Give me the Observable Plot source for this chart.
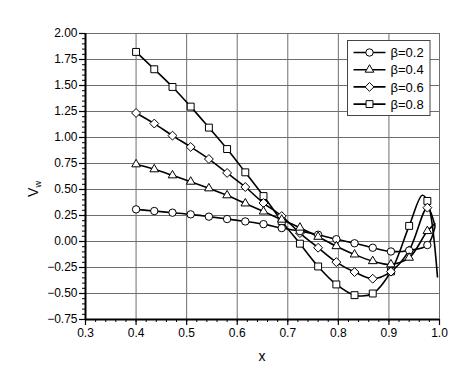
<!DOCTYPE html>
<html>
<head>
<meta charset="utf-8">
<script src="https://cdn.jsdelivr.net/npm/d3@7"></script>
<script src="https://cdn.jsdelivr.net/npm/@observablehq/plot@0.6"></script>
<style>
  html, body { margin: 0; padding: 0; background: #fff; }
  #chart { width: 474px; height: 392px; }
  svg { font-family: "Liberation Sans", Arial, sans-serif; }
</style>
</head>
<body>
<div id="chart"></div>
<script>
// ---- data ----
const betas = ["β=0.2", "β=0.4", "β=0.6", "β=0.8"];
const symbols = ["circle", "triangle", "diamond2", "square2"];
const xMarkers = [0.4, 0.436, 0.472, 0.508, 0.544, 0.58, 0.616, 0.652, 0.688, 0.724, 0.76, 0.796, 0.832, 0.868, 0.904, 0.94, 0.976];
const vBeta02 = [0.309, 0.293, 0.277, 0.261, 0.239, 0.216, 0.193, 0.167, 0.129, 0.100, 0.065, 0.022, -0.017, -0.060, -0.096, -0.086, -0.034];
const vBeta04 = [0.742, 0.694, 0.636, 0.575, 0.511, 0.444, 0.366, 0.288, 0.210, 0.133, 0.045, -0.045, -0.125, -0.189, -0.220, -0.156, 0.100];
const vBeta06 = [1.236, 1.134, 1.018, 0.909, 0.793, 0.659, 0.524, 0.370, 0.245, 0.081, -0.060, -0.198, -0.294, -0.358, -0.290, -0.086, 0.325];
const vBeta08 = [1.823, 1.656, 1.486, 1.297, 1.095, 0.889, 0.665, 0.437, 0.196, -0.021, -0.240, -0.413, -0.516, -0.500, -0.288, 0.150, 0.390];
// extra curve points (no marker) near the wall
const tailBeta02 = [[0.991, 0.14]];
const tailBeta04 = [[0.991, 0.17]];
const tailBeta06 = [[0.991, 0.15]];
const tailBeta08 = [[0.966, 0.445], [0.996, -0.34]];
const xTicks = [0.3, 0.4, 0.5, 0.6, 0.7, 0.8, 0.9, 1.0];
const yTicks = [-0.75, -0.5, -0.25, 0, 0.25, 0.5, 0.75, 1.0, 1.25, 1.5, 1.75, 2.0];

// ---- build tables ----
const symbolR = {circle: 3.7, triangle: 3.2, diamond2: 4.0, square2: 4.4};
const series = [vBeta02, vBeta04, vBeta06, vBeta08];
const tails = [tailBeta02, tailBeta04, tailBeta06, tailBeta08];
const markers = [];
const lines = [];
series.forEach((vals, i) => {
  vals.forEach((v, j) => {
    markers.push({x: xMarkers[j], v, beta: betas[i], symbol: symbols[i], r: symbolR[symbols[i]]});
    lines.push({x: xMarkers[j], v, beta: betas[i]});
  });
  tails[i].forEach(([x, v]) => lines.push({x, v, beta: betas[i]}));
});
lines.sort((a, b) => a.x - b.x);

const xMinor = d3.range(0.3, 1.0001, 0.02).map(d => +d.toFixed(2));
const yMinor = d3.range(-0.75, 2.0001, 0.05).map(d => +d.toFixed(2));

const plot = Plot.plot({
  width: 474,
  height: 392,
  marginLeft: 85,
  marginRight: 35,
  marginTop: 33,
  marginBottom: 73,
  style: {fontFamily: "'Liberation Sans', Arial, sans-serif", fontSize: "12px", color: "#000", background: "#fff"},
  x: {domain: [0.3, 1.0]},
  y: {domain: [-0.75, 2.0]},
  r: {type: "identity"},
  marks: [
    Plot.gridX(xTicks, {stroke: "#6e6e6e", strokeOpacity: 1, strokeWidth: 1}),
    Plot.gridY(yTicks, {stroke: "#6e6e6e", strokeOpacity: 1, strokeWidth: 1}),
    Plot.axisX(xMinor, {tickSize: 3, text: null, label: null, strokeWidth: 1}),
    Plot.axisY(yMinor, {tickSize: 3, text: null, label: null, strokeWidth: 1}),
    Plot.axisX(xTicks, {tickSize: 6, tickPadding: 3, tickFormat: d3.format(".1f"), label: null, fontSize: 12, strokeWidth: 1.2}),
    Plot.axisY(yTicks, {tickSize: 6, tickPadding: 2, tickFormat: d3.format(".2f"), label: null, fontSize: 12, strokeWidth: 1.2}),
    Plot.ruleX([0.3], {stroke: "#000", strokeWidth: 2}),
    Plot.ruleY([-0.75], {stroke: "#000", strokeWidth: 2}),
    Plot.line(lines, {x: "x", y: "v", z: "beta", curve: "catmull-rom", stroke: "#000", strokeWidth: 1.6}),
    Plot.dot(markers, {x: "x", y: "v", symbol: "symbol", r: "r", fill: "#fff", stroke: "#000", strokeWidth: 1})
  ]
});
document.getElementById("chart").appendChild(plot);

// ---- axis titles and legend ----
const svg = d3.select(plot);
const fam = "'Liberation Sans', Arial, sans-serif";
svg.append("text")
  .attr("x", 262).attr("y", 361)
  .attr("text-anchor", "middle")
  .attr("font-family", fam).attr("font-size", 14)
  .text("x");
const yl = svg.append("text")
  .attr("transform", "translate(38,189) rotate(-90)")
  .attr("text-anchor", "middle")
  .attr("font-family", fam).attr("font-size", 14);
yl.append("tspan").text("V");
yl.append("tspan").attr("font-size", 9).attr("dy", 3).text("w");

const lg = svg.append("g").attr("transform", "translate(347.5,40.5)");
lg.append("rect").attr("width", 82.5).attr("height", 75)
  .attr("fill", "#fff").attr("stroke", "#444").attr("stroke-width", 1);
const symMap = {circle: d3.symbolCircle, triangle: d3.symbolTriangle, diamond2: d3.symbolDiamond2, square2: d3.symbolSquare2};
betas.forEach((b, i) => {
  const y = 12 + i * 17.2;
  const r = symbolR[symbols[i]];
  lg.append("line").attr("x1", 6).attr("x2", 38).attr("y1", y).attr("y2", y)
    .attr("stroke", "#000").attr("stroke-width", 1.6);
  lg.append("path").attr("transform", `translate(22,${y})`)
    .attr("d", d3.symbol(symMap[symbols[i]], r * r * Math.PI)())
    .attr("fill", "#fff").attr("stroke", "#000").attr("stroke-width", 1);
  lg.append("text").attr("x", 43).attr("y", y).attr("dy", "0.36em")
    .attr("text-anchor", "start")
    .attr("font-family", fam).attr("font-size", 13).text(b);
});
</script>
</body>
</html>
